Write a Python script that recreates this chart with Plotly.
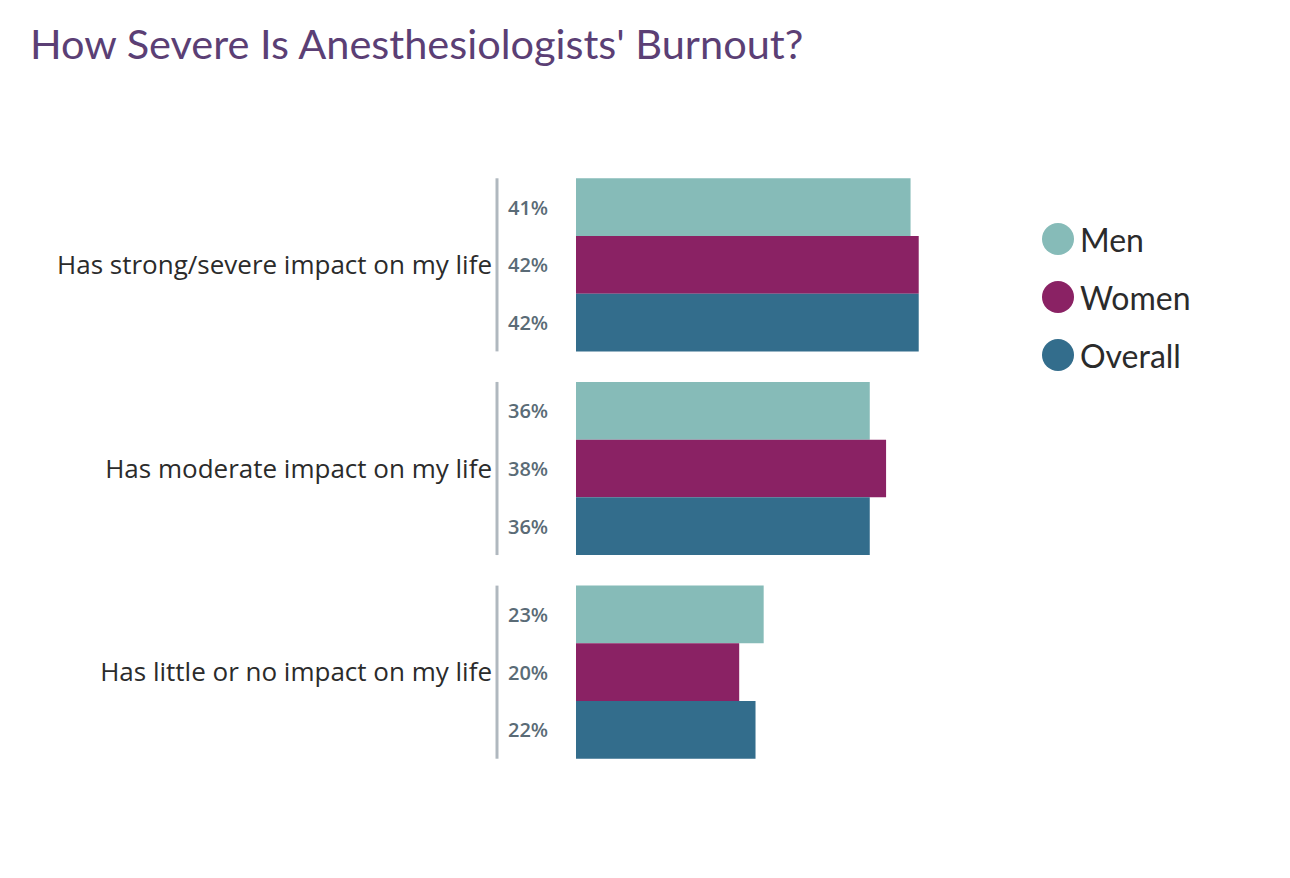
import plotly.graph_objects as go

# survey answers and shares (%)
categories = [
    "Has strong/severe impact on my life",
    "Has moderate impact on my life",
    "Has little or no impact on my life",
]
series_names = ["Men", "Women", "Overall"]
men = [41, 36, 23]
women = [42, 38, 20]
overall = [42, 36, 22]

COLORS = {"Men": "#86bbb8", "Women": "#8a2264", "Overall": "#336d8c"}
TITLE_FONT = "Lato"
LABEL_FONT = "Open Sans"

# page geometry in pixels (the page body adds an 8px offset)
OFF = 8
W, H = 1290, 878
L, R, T, B = 576 - OFF, 306 + OFF, 163 - OFF, 104 + OFF
PW, PH = W - L - R, H - T - B
BARGAP = 0.15
bw = (1 - BARGAP) / 3


def px_x(px):
    return (px - OFF - L) / PW


def px_y(py):
    return (H - B - (py - OFF)) / PH


fig = go.Figure()
values = {"Men": men, "Women": women, "Overall": overall}
for name in series_names:
    fig.add_trace(go.Bar(
        y=categories, x=values[name], orientation="h", name=name,
        marker=dict(color=COLORS[name], line=dict(width=0)),
        showlegend=False, hoverinfo="x+name",
    ))

annotations = []
shapes = []
# percent labels to the left of each bar, plus grey bracket per group
for i, cat in enumerate(categories):
    for k, name in enumerate(series_names):
        annotations.append(dict(
            x=px_x(506), xref="paper", xanchor="left",
            y=i + (k - 1) * bw, yref="y", yanchor="middle",
            text=f"{values[name][i]}%", showarrow=False,
            font=dict(family=LABEL_FONT, size=20, color="#5a6b76", weight=600),
        ))
    shapes.append(dict(
        type="line", xref="paper", yref="y",
        x0=px_x(497), x1=px_x(497), y0=i - 0.5 + BARGAP / 2, y1=i + 0.5 - BARGAP / 2,
        line=dict(color="#b0b8bf", width=3),
    ))

# legend with large round swatches
for k, name in enumerate(series_names):
    cy = px_y(239 + 58 * k)
    shapes.append(dict(
        type="circle", xref="paper", yref="paper",
        xsizemode="pixel", ysizemode="pixel",
        xanchor=px_x(1058), yanchor=cy, x0=-16, x1=16, y0=-16, y1=16,
        fillcolor=COLORS[name], line=dict(width=0),
    ))
    annotations.append(dict(
        x=px_x(1078), xref="paper", xanchor="left",
        y=cy, yref="paper", yanchor="middle",
        text=name, showarrow=False,
        font=dict(family=TITLE_FONT, size=32, color="#2b2b2b"),
    ))

fig.update_layout(
    width=W, height=H,
    margin=dict(l=L, r=R, t=T, b=B),
    paper_bgcolor="white", plot_bgcolor="white",
    barmode="group", bargap=BARGAP, bargroupgap=0,
    title=dict(
        text="How Severe Is Anesthesiologists' Burnout?",
        x=(30 - OFF) / W, xanchor="left", xref="container",
        y=1 - (44 - OFF) / H, yanchor="middle", yref="container",
        font=dict(family=TITLE_FONT, size=41.5, color="#5b3f75"),
    ),
    xaxis=dict(range=[0, 50], visible=False, fixedrange=True),
    yaxis=dict(
        categoryorder="array", categoryarray=categories,
        autorange="reversed", showgrid=False, zeroline=False, showline=False,
        ticks="", ticklabelstandoff=576 - 493,
        tickfont=dict(family=LABEL_FONT, size=26, color="#2b2b2b"),
    ),
    annotations=annotations,
    shapes=shapes,
    showlegend=False,
)

fig.write_html("out.html")
